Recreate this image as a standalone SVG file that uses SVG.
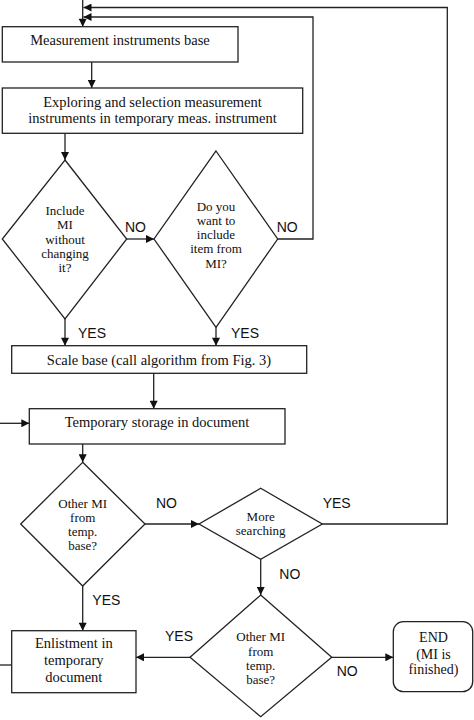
<svg xmlns="http://www.w3.org/2000/svg" width="474" height="720" viewBox="0 0 474 720">
<style>
.box{fill:#fff;stroke:#222;stroke-width:1.3}
.ln{fill:none;stroke:#222;stroke-width:1.3}
.t{font-family:"Liberation Serif","Times New Roman",serif;font-size:14.5px;fill:#111;text-anchor:middle}
.d{font-family:"Liberation Serif","Times New Roman",serif;font-size:13px;fill:#111;text-anchor:middle}
.e{font-family:"Liberation Serif","Times New Roman",serif;font-size:14px;fill:#111;text-anchor:middle}
.lb{font-family:"Liberation Sans",Arial,sans-serif;font-size:14px;fill:#111}
</style>
<defs>
<marker id="ah" viewBox="0 0 10 10" refX="10" refY="5" markerWidth="9" markerHeight="8" markerUnits="userSpaceOnUse" orient="auto">
<path d="M0,0 L10,5 L0,10 Z" fill="#111"/>
</marker>
</defs>
<rect width="474" height="720" fill="#fff"/>
<g id="connectors">
<line class="ln" x1="82.7" y1="0" x2="82.7" y2="26.7" marker-end="url(#ah)"/>
<polyline class="ln" points="322.3,524 447.3,524 447.3,7.5 83.5,7.5" marker-end="url(#ah)"/>
<polyline class="ln" points="277.7,239 313,239 313,17 83.5,17" marker-end="url(#ah)"/>
<line class="ln" x1="91.7" y1="62" x2="91.7" y2="88" marker-end="url(#ah)"/>
<line class="ln" x1="65" y1="133.3" x2="65" y2="160" marker-end="url(#ah)"/>
<line class="ln" x1="126.7" y1="239" x2="154" y2="239" marker-end="url(#ah)"/>
<line class="ln" x1="65" y1="319" x2="65" y2="345.7" marker-end="url(#ah)"/>
<line class="ln" x1="216" y1="327.3" x2="216" y2="345.7" marker-end="url(#ah)"/>
<line class="ln" x1="153.7" y1="373.3" x2="153.7" y2="408.7" marker-end="url(#ah)"/>
<line class="ln" x1="0" y1="423.3" x2="29.3" y2="423.3" marker-end="url(#ah)"/>
<line class="ln" x1="82.7" y1="444" x2="82.7" y2="462.3" marker-end="url(#ah)"/>
<line class="ln" x1="145" y1="524" x2="199" y2="524" marker-end="url(#ah)"/>
<line class="ln" x1="260.7" y1="559.3" x2="260.7" y2="595" marker-end="url(#ah)"/>
<line class="ln" x1="82.7" y1="586" x2="82.7" y2="630.7" marker-end="url(#ah)"/>
<line class="ln" x1="190" y1="657.3" x2="136" y2="657.3" marker-end="url(#ah)"/>
<line class="ln" x1="331.7" y1="657.3" x2="393.3" y2="657.3" marker-end="url(#ah)"/>
<line class="ln" x1="0" y1="665" x2="11.7" y2="665"/>
<text class="lb" x="125" y="232">NO</text>
<text class="lb" x="276.7" y="232">NO</text>
<text class="lb" x="78" y="338">YES</text>
<text class="lb" x="231" y="338">YES</text>
<text class="lb" x="156" y="507.5">NO</text>
<text class="lb" x="322.7" y="507.5">YES</text>
<text class="lb" x="279.3" y="578.5">NO</text>
<text class="lb" x="92.3" y="605">YES</text>
<text class="lb" x="165" y="641">YES</text>
<text class="lb" x="336.7" y="676">NO</text>
</g>
<g id="n1">
<rect class="box" x="2.3" y="26.7" width="235.7" height="35.3"/>
<text class="t" x="120" y="45">Measurement instruments base</text>
</g>
<g id="n2">
<rect class="box" x="2.3" y="88" width="300.4" height="45.3"/>
<text class="t" x="152.5" y="107">Exploring and selection measurement</text>
<text class="t" x="152.5" y="123">instruments in temporary meas. instrument</text>
</g>
<g id="n3">
<polygon class="box" points="65,160 126.7,239 65,319 2.3,239"/>
<text class="d" x="65" y="215">Include</text>
<text class="d" x="65" y="229">MI</text>
<text class="d" x="65" y="243.5">without</text>
<text class="d" x="65" y="257.5">changing</text>
<text class="d" x="65" y="271.5">it?</text>
</g>
<g id="n4">
<polygon class="box" points="216,151 277.7,239 216,327.3 154,239"/>
<text class="d" x="216" y="210.5">Do you</text>
<text class="d" x="216" y="224.5">want to</text>
<text class="d" x="216" y="239">include</text>
<text class="d" x="216" y="253">item from</text>
<text class="d" x="216" y="267.5">MI?</text>
</g>
<g id="n5">
<rect class="box" x="11.7" y="345.7" width="295" height="27.6"/>
<text class="t" x="159" y="365">Scale base (call algorithm from Fig. 3)</text>
</g>
<g id="n6">
<rect class="box" x="29.3" y="408.7" width="255.7" height="35.3"/>
<text class="t" x="157" y="426.5">Temporary storage in document</text>
</g>
<g id="n7">
<polygon class="box" points="82.7,462.3 145,524 82.7,586 20.7,524"/>
<text class="d" x="82.7" y="507.5">Other MI</text>
<text class="d" x="82.7" y="521.5">from</text>
<text class="d" x="82.7" y="536">temp.</text>
<text class="d" x="82.7" y="550">base?</text>
</g>
<g id="n8">
<polygon class="box" points="260.7,488.3 322.3,524 260.7,559.3 199,524"/>
<text class="d" x="260.7" y="521">More</text>
<text class="d" x="260.7" y="535">searching</text>
</g>
<g id="n9">
<polygon class="box" points="260.7,595 331.7,657.3 260.7,716.7 190,657.3"/>
<text class="d" x="260.7" y="641">Other MI</text>
<text class="d" x="260.7" y="655.5">from</text>
<text class="d" x="260.7" y="670">temp.</text>
<text class="d" x="260.7" y="684">base?</text>
</g>
<g id="n10">
<rect class="box" x="11.7" y="630.7" width="124.3" height="62"/>
<text class="t" x="73.8" y="648">Enlistment in</text>
<text class="t" x="73.8" y="665">temporary</text>
<text class="t" x="73.8" y="681.5">document</text>
</g>
<g id="n11">
<rect class="box" x="393.3" y="621.7" width="79.4" height="70" rx="10" ry="10"/>
<text class="e" x="433.5" y="642">END</text>
<text class="e" x="433.5" y="658.5">(MI is</text>
<text class="e" x="433.5" y="674">finished)</text>
</g>
</svg>
